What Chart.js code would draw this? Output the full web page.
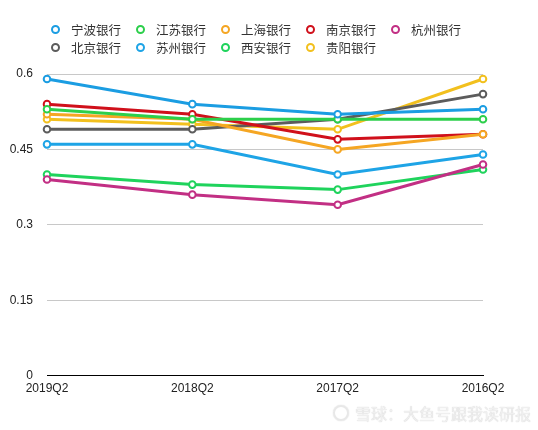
<!DOCTYPE html>
<html>
<head>
<meta charset="utf-8">
<script src="https://cdn.jsdelivr.net/npm/chart.js@4.4.0/dist/chart.umd.min.js"></script>
<style>
  body { margin: 0; background: #fff; }
  #wrap { position: relative; width: 538px; height: 430px; overflow: hidden; }
  #myChart { display: block; }
  #legend {
    position: absolute; left: 51px; top: 20px;
    display: grid; grid-template-columns: repeat(5, 85px); row-gap: 0px;
    font-family: "Noto Sans CJK SC", sans-serif; font-size: 12.5px; color: #333;
  }
  .item { display: flex; align-items: center; height: 18px; }
  .dot { width: 5px; height: 5px; border: 2px solid; border-radius: 50%; background: #fff; margin-right: 11px; }
  #mark {
    position: absolute; left: 333px; top: 401px; white-space: nowrap;
    font-family: "Noto Sans CJK SC", sans-serif; font-size: 16px; color: #efefef;
    text-shadow: 0 0 1px #c8c8c8; display: flex; align-items: center;
  }
  #mark .logo { width: 12px; height: 12px; border: 2px solid #e8e8e8; border-radius: 50%; margin-right: 6px; box-shadow: 0 0 1px #c8c8c8; }
</style>
</head>
<body>
<div id="wrap">
  <canvas id="myChart" width="538" height="430"></canvas>
  <div id="legend"></div>
  <div id="mark"><span class="logo"></span>雪球：大鱼号跟我读研报</div>
</div>
<script>
// categories on the x axis
let quarters = ['2019Q2', '2018Q2', '2017Q2', '2016Q2'];

// one array per bank
let ningbo = [0.59, 0.54, 0.52, 0.53];
let jiangsu = [0.53, 0.51, 0.51, 0.51];
let shanghai = [0.52, 0.51, 0.45, 0.48];
let nanjing = [0.54, 0.52, 0.47, 0.48];
let hangzhou = [0.39, 0.36, 0.34, 0.42];
let beijing = [0.49, 0.49, 0.51, 0.56];
let suzhou = [0.46, 0.46, 0.40, 0.44];
let xian = [0.40, 0.38, 0.37, 0.41];
let guiyang = [0.51, 0.50, 0.49, 0.59];

let bankNames = ['宁波银行', '江苏银行', '上海银行', '南京银行', '杭州银行', '北京银行', '苏州银行', '西安银行', '贵阳银行'];
let bankValues = [ningbo, jiangsu, shanghai, nanjing, hangzhou, beijing, suzhou, xian, guiyang];
let bankColors = ['#1b9de2', '#2ccf4b', '#f5a623', '#d0101b', '#c22f84', '#5c5c5c', '#1ea4e6', '#1fd35c', '#f2c01e'];

// y axis ticks
let yTicks = [0, 0.15, 0.3, 0.45, 0.6];

// build the legend
let legend = document.getElementById('legend');
bankNames.forEach((name, i) => {
  let item = document.createElement('div');
  item.className = 'item';
  item.innerHTML = '<span class="dot" style="border-color:' + bankColors[i] + '"></span>' + name;
  legend.appendChild(item);
});

let datasets = bankNames.map((name, i) => ({
  label: name,
  data: bankValues[i],
  borderColor: bankColors[i],
  backgroundColor: '#fff',
  pointBackgroundColor: '#fff',
  pointBorderColor: bankColors[i],
  borderWidth: 3,
  pointRadius: 3.3,
  pointBorderWidth: 2,
  tension: 0
}));

const ctx = document.getElementById('myChart').getContext('2d');
let lineChart = new Chart(ctx, {
  type: 'line',
  data: { labels: quarters, datasets: datasets },
  options: {
    responsive: false,
    animation: false,
    layout: { padding: { top: 74, right: 55, left: 0, bottom: 28 } },
    plugins: { legend: { display: false }, tooltip: { enabled: false } },
    scales: {
      x: {
        offset: false,
        grid: { display: false, drawTicks: false },
        border: { color: '#000', width: 1 },
        ticks: { color: '#222', font: { family: 'Liberation Sans', size: 12 }, padding: 6, maxRotation: 0 }
      },
      y: {
        min: 0,
        max: 0.6,
        afterBuildTicks: scale => { scale.ticks = yTicks.map(v => ({ value: v })); },
        afterFit: scale => { scale.width = 47; },
        grid: { color: '#c8c8c8', drawTicks: false },
        border: { display: false },
        ticks: {
          color: '#222', font: { family: 'Liberation Sans', size: 12 }, padding: 14,
          callback: v => String(+v.toFixed(2))
        }
      }
    }
  }
});
</script>
</body>
</html>
